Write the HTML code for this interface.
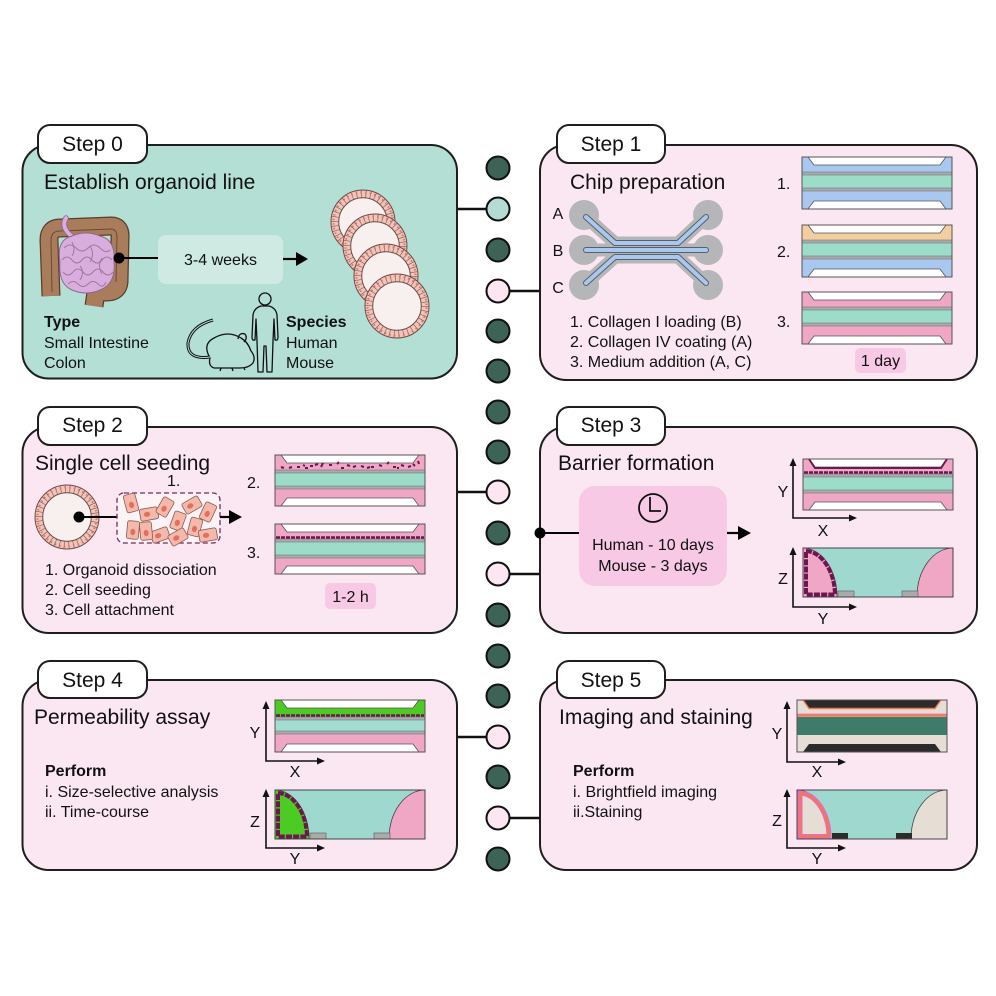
<!DOCTYPE html>
<html>
<head>
<meta charset="utf-8">
<style>
html,body{margin:0;padding:0;background:#fff;}
svg{display:block;font-family:"Liberation Sans",Arial,sans-serif;}
</style>
</head>
<body>
<svg width="996" height="996" viewBox="0 0 996 996" xmlns="http://www.w3.org/2000/svg">
<defs>
  <g id="org">
    <circle r="33" fill="#f2c3b9" stroke="#6b4a45" stroke-width="1"/>
    <circle r="29" fill="none" stroke="#80605a" stroke-width="8" stroke-dasharray="0.7 4.1"/>
    <circle r="30.5" fill="none" stroke="#d5756a" stroke-width="2" stroke-dasharray="1.5 3.3" stroke-dashoffset="-1.6"/>
    <circle r="25" fill="#f8efef" stroke="#6b4a45" stroke-width="1"/>
  </g>
  <g id="cell">
    <rect x="-6" y="-9" width="12" height="18" rx="2" fill="#f4b9aa" stroke="#8a5a50" stroke-width="0.8"/>
    <ellipse cx="0" cy="2" rx="2.5" ry="3.2" fill="#e0705f"/>
  </g>
</defs>

<!-- center dots -->
<g stroke="#111" stroke-width="2.4">
  <line x1="457" y1="209" x2="487" y2="209"/>
  <line x1="509" y1="291" x2="540" y2="291"/>
  <line x1="457" y1="492" x2="487" y2="492"/>
  <line x1="509" y1="574" x2="540" y2="574"/>
  <line x1="457" y1="737" x2="487" y2="737"/>
  <line x1="509" y1="818" x2="540" y2="818"/>
</g>
<g stroke="#111" stroke-width="2" fill="#3c6356">
  <circle cx="498" cy="168" r="11.5"/>
  <circle cx="498" cy="209" r="11.5" fill="#b5dcd4"/>
  <circle cx="498" cy="250" r="11.5"/>
  <circle cx="498" cy="291" r="11.5" fill="#fbe6f2"/>
  <circle cx="498" cy="331" r="11.5"/>
  <circle cx="498" cy="371" r="11.5"/>
  <circle cx="498" cy="412" r="11.5"/>
  <circle cx="498" cy="452" r="11.5"/>
  <circle cx="498" cy="492" r="11.5" fill="#fbe6f2"/>
  <circle cx="498" cy="533" r="11.5"/>
  <circle cx="498" cy="574" r="11.5" fill="#fbe6f2"/>
  <circle cx="498" cy="615" r="11.5"/>
  <circle cx="498" cy="656" r="11.5"/>
  <circle cx="498" cy="696" r="11.5"/>
  <circle cx="498" cy="737" r="11.5" fill="#fbe6f2"/>
  <circle cx="498" cy="777" r="11.5"/>
  <circle cx="498" cy="818" r="11.5" fill="#fbe6f2"/>
  <circle cx="498" cy="859" r="11.5"/>
</g>

<!-- panels -->
<g stroke="#1e1e1e" stroke-width="2">
  <rect x="22.5" y="145" width="434.5" height="233.5" rx="26" fill="#b4dfd5"/>
  <rect x="540" y="145" width="437" height="235" rx="26" fill="#fbe7f2"/>
  <rect x="22.5" y="427" width="434.5" height="206" rx="26" fill="#fbe7f2"/>
  <rect x="540" y="427" width="437" height="206" rx="26" fill="#fbe7f2"/>
  <rect x="22.5" y="680" width="434.5" height="190" rx="26" fill="#fbe7f2"/>
  <rect x="540" y="680" width="437" height="190" rx="26" fill="#fbe7f2"/>
  <!-- tabs -->
  <rect x="38" y="125" width="109" height="38" rx="12" fill="#fff"/>
  <rect x="557" y="125" width="108" height="38" rx="12" fill="#fff"/>
  <rect x="38" y="407" width="109" height="38" rx="12" fill="#fff"/>
  <rect x="557" y="407" width="108" height="38" rx="12" fill="#fff"/>
  <rect x="38" y="661" width="109" height="37" rx="12" fill="#fff"/>
  <rect x="557" y="661" width="108" height="37" rx="12" fill="#fff"/>
</g>
<g font-size="21" fill="#111" text-anchor="middle">
  <text x="92.5" y="151">Step 0</text>
  <text x="611" y="151">Step 1</text>
  <text x="92.5" y="432">Step 2</text>
  <text x="611" y="432">Step 3</text>
  <text x="92.5" y="687">Step 4</text>
  <text x="611" y="687">Step 5</text>
</g>

<!-- titles -->
<g font-size="21" fill="#111">
  <text x="44" y="189">Establish organoid line</text>
  <text x="570" y="189">Chip preparation</text>
  <text x="35" y="470">Single cell seeding</text>
  <text x="558" y="470">Barrier formation</text>
  <text x="34" y="724">Permeability assay</text>
  <text x="559" y="724">Imaging and staining</text>
</g>

<!-- ================= STEP 0 ================= -->
<!-- intestine -->
<path d="M51,296 L49,240 Q49,228 60,228 L111,226 Q121,226 120,238 L119,282 Q118,292 107,292 L96,292 L94,306" fill="none" stroke="#5a3d2c" stroke-width="19" stroke-linejoin="round"/>
<path d="M51,296 L49,240 Q49,228 60,228 L111,226 Q121,226 120,238 L119,282 Q118,292 107,292 L96,292 L94,306" fill="none" stroke="#a97c5c" stroke-width="16.5" stroke-linejoin="round"/>
<path d="M52,292 L51,240 Q51,231 60,231 L111,229 Q117,229 117,238 L116,282" fill="none" stroke="#6b4a35" stroke-width="1"/>
<path d="M74,238 Q60,228 66,218" fill="none" stroke="#8c6b8d" stroke-width="5.5" stroke-linecap="round"/>
<path d="M74,238 Q60,228 66,218" fill="none" stroke="#d9aedf" stroke-width="3.8" stroke-linecap="round"/>
<path d="M60,262 Q56,240 72,236 Q86,230 100,236 Q116,240 114,262 Q116,284 100,290 Q86,296 72,290 Q58,284 60,262 Z" fill="#d9aedf" stroke="#8c6b8d" stroke-width="1"/>
<g fill="none" stroke="#9b7b9c" stroke-width="1">
  <path d="M64,248 q6,-6 12,0 t12,0 t12,0 t10,2"/>
  <path d="M62,260 q5,-6 10,0 t10,0 t10,0 t10,0 t10,0"/>
  <path d="M63,272 q5,6 10,0 t10,0 t10,0 t10,0 t10,0"/>
  <path d="M68,284 q5,-5 10,0 t10,0 t10,0 t8,-2"/>
  <path d="M72,242 q4,8 0,14 M90,246 q5,8 0,16 M102,258 q-5,8 0,16 M80,266 q5,6 0,14"/>
</g>
<circle cx="119" cy="258" r="5.5" fill="#000"/>
<line x1="119" y1="258" x2="158" y2="258" stroke="#000" stroke-width="2"/>
<rect x="158" y="235" width="125" height="49" rx="8" fill="#cfeae3"/>
<text x="220.5" y="265" font-size="16" text-anchor="middle" fill="#111">3-4 weeks</text>
<line x1="283" y1="259" x2="299" y2="259" stroke="#000" stroke-width="2.2"/>
<polygon points="296,252 308,259 296,266" fill="#000"/>
<!-- organoids -->
<use href="#org" transform="translate(363,222) scale(0.97)"/>
<use href="#org" transform="translate(375,246) scale(0.97)"/>
<use href="#org" transform="translate(386,276) scale(0.97)"/>
<use href="#org" transform="translate(397,306) scale(0.97)"/>
<!-- mouse -->
<g fill="none" stroke="#111" stroke-width="1.3" stroke-linejoin="round">
  <path d="M210,358 Q202,344 214,338 Q228,330 241,338 Q248,342 251,351 Q256,357 253,363 Q249,368 240,368 L214,368 Q208,366 210,358 Z"/>
  <path d="M238,339 q1,-7 7,-5 q3,4 -1,8"/>
  <path d="M221,368 l-1,3 M232,368 l1,3 M244,368 l1,2"/>
  <path d="M210,357 Q187,360 188,343 Q191,326 213,320" stroke-width="3"/>
</g>
<path d="M210,357 Q187,360 188,343 Q191,326 213,320" fill="none" stroke="#b4dfd5" stroke-width="1"/>
<!-- human -->
<g fill="none" stroke="#111" stroke-width="1.3" stroke-linejoin="round">
  <circle cx="265" cy="299" r="6"/>
  <path d="M261,306 L269,306 Q276,308 277,315 L278,337 Q278,341 275,340 L274,319 L273,341 L272,372 L267,372 L266,346 L264,346 L263,372 L258,372 L257,341 L256,319 L255,340 Q252,341 252,337 L253,315 Q254,308 261,306 Z"/>
</g>
<g font-size="16" fill="#111">
  <text x="44" y="327" font-weight="bold">Type</text>
  <text x="44" y="348">Small Intestine</text>
  <text x="44" y="368">Colon</text>
  <text x="286" y="327" font-weight="bold">Species</text>
  <text x="286" y="348">Human</text>
  <text x="286" y="368">Mouse</text>
</g>

<!-- ================= STEP 1 ================= -->
<g fill="#b4b6b8">
  <circle cx="584" cy="215" r="15"/><circle cx="584" cy="250" r="15"/><circle cx="584" cy="285" r="15"/>
  <circle cx="708" cy="215" r="15"/><circle cx="708" cy="250" r="15"/><circle cx="708" cy="285" r="15"/>
</g>
<g fill="none" stroke="#b4b6b8" stroke-width="13" stroke-linejoin="round">
  <path d="M584,215 L615,243 L678,243 L708,215"/>
  <path d="M584,250 L708,250"/>
  <path d="M584,285 L615,257 L678,257 L708,285"/>
</g>
<g fill="none" stroke="#5a6068" stroke-width="6" stroke-linecap="round" stroke-linejoin="round">
  <path d="M586,217 L615,243 L678,243 L706,217"/>
  <path d="M586,250 L706,250"/>
  <path d="M586,283 L615,257 L678,257 L706,283"/>
</g>
<g fill="none" stroke="#a8c8f0" stroke-width="4" stroke-linecap="round" stroke-linejoin="round">
  <path d="M586,217 L615,243 L678,243 L706,217"/>
  <path d="M586,250 L706,250"/>
  <path d="M586,283 L615,257 L678,257 L706,283"/>
</g>
<g font-size="16" fill="#111" text-anchor="middle">
  <text x="558" y="219">A</text>
  <text x="558" y="256">B</text>
  <text x="558" y="293">C</text>
</g>
<g font-size="16" fill="#111">
  <text x="570" y="327">1. Collagen I loading (B)</text>
  <text x="570" y="347">2. Collagen IV coating (A)</text>
  <text x="570" y="367">3. Medium addition (A, C)</text>
  <text x="777" y="189">1.</text>
  <text x="777" y="257">2.</text>
  <text x="777" y="327">3.</text>
</g>
<!-- section 1 -->
<g transform="translate(802,157)">
  <rect width="150" height="52" fill="#a8c8f0"/>
  <rect y="15" width="150" height="3" fill="#a9abad"/>
  <rect y="18" width="150" height="13" fill="#9edcca"/>
  <rect y="31" width="150" height="3" fill="#a9abad"/>
  <path d="M0,15H150M0,18H150M0,31H150M0,34H150" stroke="#666" stroke-width="0.6"/>
  <polygon points="6,0 144,0 138,8 12,8" fill="#fff" stroke="#555" stroke-width="0.8"/>
  <polygon points="12,44 138,44 144,52 6,52" fill="#fff" stroke="#555" stroke-width="0.8"/>
  <rect width="150" height="52" fill="none" stroke="#555" stroke-width="1"/>
</g>
<!-- section 2 -->
<g transform="translate(802,225)">
  <rect width="150" height="52" fill="#f2cfa0"/>
  <rect y="34" width="150" height="18" fill="#a8c8f0"/>
  <rect y="15" width="150" height="3" fill="#a9abad"/>
  <rect y="18" width="150" height="13" fill="#9edcca"/>
  <rect y="31" width="150" height="3" fill="#a9abad"/>
  <path d="M0,15H150M0,18H150M0,31H150M0,34H150" stroke="#666" stroke-width="0.6"/>
  <polygon points="6,0 144,0 138,8 12,8" fill="#fff" stroke="#555" stroke-width="0.8"/>
  <polygon points="12,44 138,44 144,52 6,52" fill="#fff" stroke="#555" stroke-width="0.8"/>
  <rect width="150" height="52" fill="none" stroke="#555" stroke-width="1"/>
</g>
<!-- section 3 -->
<g transform="translate(802,292)">
  <rect width="150" height="52" fill="#f0a7c5"/>
  <rect y="15" width="150" height="3" fill="#a9abad"/>
  <rect y="18" width="150" height="13" fill="#9edcca"/>
  <rect y="31" width="150" height="3" fill="#a9abad"/>
  <path d="M0,15H150M0,18H150M0,31H150M0,34H150" stroke="#666" stroke-width="0.6"/>
  <polygon points="6,0 144,0 138,8 12,8" fill="#fff" stroke="#555" stroke-width="0.8"/>
  <polygon points="12,44 138,44 144,52 6,52" fill="#fff" stroke="#555" stroke-width="0.8"/>
  <rect width="150" height="52" fill="none" stroke="#555" stroke-width="1"/>
</g>
<rect x="855" y="348" width="51" height="25" rx="5" fill="#f7c9e4"/>
<text x="880.5" y="366" font-size="16" fill="#111" text-anchor="middle">1 day</text>

<!-- ================= STEP 2 ================= -->
<use href="#org" transform="translate(67,517) scale(0.97)"/>
<circle cx="79" cy="517" r="5.5" fill="#000"/>
<line x1="79" y1="517" x2="117" y2="517" stroke="#000" stroke-width="2"/>
<rect x="117" y="493" width="103" height="50" rx="7" fill="#fcf3f7" stroke="#7a2a5a" stroke-width="1.3" stroke-dasharray="5 3"/>
<use href="#cell" transform="translate(131,503) rotate(-15)"/>
<use href="#cell" transform="translate(133,530) rotate(5)"/>
<use href="#cell" transform="translate(149,514) rotate(80)"/>
<use href="#cell" transform="translate(160,535) rotate(70)"/>
<use href="#cell" transform="translate(165,507) rotate(30)"/>
<use href="#cell" transform="translate(178,521) rotate(20)"/>
<use href="#cell" transform="translate(178,537) rotate(60)"/>
<use href="#cell" transform="translate(192,505) rotate(60)"/>
<use href="#cell" transform="translate(195,527) rotate(15)"/>
<use href="#cell" transform="translate(208,512) rotate(25)"/>
<use href="#cell" transform="translate(208,535) rotate(80)"/>
<use href="#cell" transform="translate(146,531) rotate(-5)"/>
<line x1="220" y1="517" x2="232" y2="517" stroke="#000" stroke-width="2.2"/>
<polygon points="229,510 242,517 229,524" fill="#000"/>
<g font-size="16" fill="#111">
  <text x="167" y="486">1.</text>
  <text x="247" y="488">2.</text>
  <text x="247" y="558">3.</text>
  <text x="45" y="575">1. Organoid dissociation</text>
  <text x="45" y="595">2. Cell seeding</text>
  <text x="45" y="615">3. Cell attachment</text>
</g>
<g transform="translate(275,455)">
  <rect width="150" height="51" fill="#f0a7c5"/>
  <rect y="15" width="150" height="3" fill="#a9abad"/>
  <rect y="18" width="150" height="13" fill="#9edcca"/>
  <rect y="31" width="150" height="3" fill="#a9abad"/>
  <path d="M0,15H150M0,18H150M0,31H150M0,34H150" stroke="#666" stroke-width="0.6"/>
  <polygon points="6,0 144,0 138,8 12,8" fill="#fff" stroke="#555" stroke-width="0.8"/>
  <polygon points="12,43 138,43 144,51 6,51" fill="#fff" stroke="#555" stroke-width="0.8"/>
  <path d="M6,12 l3,1 M14,13 l3,-1 M22,12 l3,0 M28,10 l2,1 M35,11 l3,0 M40,10 l3,-1 M46,12 l2,-4 M54,10 l3,0 M62,9 l2,-2 M72,10 l3,1 M78,12 l3,-1 M86,11 l3,1 M96,12 l3,0 M104,10 l3,1 M112,9 l2,-2 M118,12 l3,0 M126,10 l3,1 M133,12 l3,-1 M138,9 l2,2 M143,6 l1,3 M30,13 l3,0 M66,13 l3,0 M92,13 l3,-1 M122,13 l2,0" stroke="#6d1650" stroke-width="2"/>
  <rect width="150" height="51" fill="none" stroke="#555" stroke-width="1"/>
</g>
<g transform="translate(275,524)">
  <rect width="150" height="50" fill="#f0a7c5"/>
  <rect y="15" width="150" height="3" fill="#a9abad"/>
  <rect y="18" width="150" height="13" fill="#9edcca"/>
  <rect y="31" width="150" height="3" fill="#a9abad"/>
  <path d="M0,15H150M0,18H150M0,31H150M0,34H150" stroke="#666" stroke-width="0.6"/>
  <polygon points="6,0 144,0 138,8 12,8" fill="#fff" stroke="#555" stroke-width="0.8"/>
  <polygon points="12,42 138,42 144,50 6,50" fill="#fff" stroke="#555" stroke-width="0.8"/>
  <line x1="1" y1="13.5" x2="149" y2="13.5" stroke="#6d1650" stroke-width="2.5" stroke-dasharray="4 1"/>
  <rect width="150" height="50" fill="none" stroke="#555" stroke-width="1"/>
</g>
<rect x="325" y="583" width="51" height="26" rx="5" fill="#f7c9e4"/>
<text x="350.5" y="602" font-size="16" fill="#111" text-anchor="middle">1-2 h</text>

<!-- ================= STEP 3 ================= -->
<circle cx="540" cy="533" r="5.5" fill="#000"/>
<line x1="540" y1="533" x2="579" y2="533" stroke="#000" stroke-width="2"/>
<rect x="579" y="486" width="148" height="100" rx="16" fill="#f7c9e4"/>
<circle cx="653" cy="508" r="14" fill="none" stroke="#111" stroke-width="1.8"/>
<path d="M650,497 L650,511 L661,511" fill="none" stroke="#111" stroke-width="1.8"/>
<g font-size="16" fill="#111" text-anchor="middle">
  <text x="653" y="550">Human - 10 days</text>
  <text x="653" y="571">Mouse - 3 days</text>
</g>
<line x1="727" y1="533" x2="741" y2="533" stroke="#000" stroke-width="2.2"/>
<polygon points="738,526 751,533 738,540" fill="#000"/>
<!-- XY -->
<g transform="translate(803,459)">
  <rect width="150" height="51" fill="#f0a7c5"/>
  <rect y="15" width="150" height="3" fill="#a9abad"/>
  <rect y="18" width="150" height="13" fill="#9edcca"/>
  <rect y="31" width="150" height="3" fill="#a9abad"/>
  <path d="M0,15H150M0,18H150M0,31H150M0,34H150" stroke="#666" stroke-width="0.6"/>
  <polygon points="6,0 144,0 138,8 12,8" fill="#fff" stroke="#555" stroke-width="0.8"/>
  <polygon points="12,43 138,43 144,51 6,51" fill="#fff" stroke="#555" stroke-width="0.8"/>
  <polyline points="6,0 12,9 138,9 144,0" fill="none" stroke="#6d1650" stroke-width="2"/>
  <line x1="1" y1="13.5" x2="149" y2="13.5" stroke="#6d1650" stroke-width="2.5" stroke-dasharray="4 1"/>
  <rect width="150" height="51" fill="none" stroke="#555" stroke-width="1"/>
</g>
<!-- ZY -->
<g transform="translate(803,548)">
  <rect width="150" height="49" fill="#9fd8cf"/>
  <path d="M0,0 A34,49 0 0 1 34,49 L0,49 Z" fill="#f0a7c5" stroke="#444" stroke-width="0.8"/>
  <path d="M150,0 A36,49 0 0 0 114,49 L150,49 Z" fill="#f0a7c5" stroke="#444" stroke-width="0.8"/>
  <path d="M3,3 A30,45 0 0 1 32,46.5 L3,46.5 Z" fill="none" stroke="#6d1650" stroke-width="4" stroke-dasharray="6 1.2"/>
  <rect x="35" y="43" width="16" height="6" fill="#aaa" stroke="#666" stroke-width="0.7"/>
  <rect x="99" y="43" width="16" height="6" fill="#aaa" stroke="#666" stroke-width="0.7"/>
  <rect width="150" height="49" fill="none" stroke="#444" stroke-width="1"/>
</g>
<!-- axes step 3 -->
<g stroke="#111" stroke-width="1.6" fill="none">
  <path d="M793,464 L793,518 L850,518"/>
  <path d="M793,553 L793,607 L850,607"/>
</g>
<g fill="#111">
  <polygon points="793,458 789.5,466 796.5,466"/>
  <polygon points="857,518 849,514.5 849,521.5"/>
  <polygon points="793,547 789.5,555 796.5,555"/>
  <polygon points="857,607 849,603.5 849,610.5"/>
</g>
<g font-size="16" fill="#111" text-anchor="middle">
  <text x="783" y="497">Y</text>
  <text x="823" y="536">X</text>
  <text x="783" y="584">Z</text>
  <text x="823" y="624">Y</text>
</g>

<!-- ================= STEP 4 ================= -->
<g font-size="16" fill="#111">
  <text x="45" y="776" font-weight="bold">Perform</text>
  <text x="45" y="797">i. Size-selective analysis</text>
  <text x="45" y="817">ii. Time-course</text>
</g>
<g transform="translate(275,700)">
  <rect width="150" height="52" fill="#4ccb22"/>
  <rect y="34" width="150" height="18" fill="#f0a7c5"/>
  <rect y="17" width="150" height="3" fill="#a9abad"/>
  <rect y="20" width="150" height="11" fill="#a3dcd3"/>
  <rect y="31" width="150" height="3" fill="#a9abad"/>
  <path d="M0,17H150M0,20H150M0,31H150M0,34H150" stroke="#666" stroke-width="0.6"/>
  <polygon points="6,0 144,0 138,8 12,8" fill="#fff" stroke="#555" stroke-width="0.8"/>
  <polygon points="12,44 138,44 144,52 6,52" fill="#fff" stroke="#555" stroke-width="0.8"/>
  <line x1="1" y1="15.5" x2="149" y2="15.5" stroke="#6d1650" stroke-width="2.5" stroke-dasharray="4 1"/>
  <rect width="150" height="52" fill="none" stroke="#555" stroke-width="1"/>
</g>
<g transform="translate(275,790)">
  <rect width="150" height="49" fill="#9fd8cf"/>
  <path d="M0,0 A34,49 0 0 1 34,49 L0,49 Z" fill="#4ccb22" stroke="#444" stroke-width="0.8"/>
  <path d="M150,0 A36,49 0 0 0 114,49 L150,49 Z" fill="#f0a7c5" stroke="#444" stroke-width="0.8"/>
  <path d="M3,3 A30,45 0 0 1 32,46.5 L3,46.5 Z" fill="none" stroke="#6d1650" stroke-width="4" stroke-dasharray="6 1.2"/>
  <rect x="35" y="43" width="16" height="6" fill="#aaa" stroke="#666" stroke-width="0.7"/>
  <rect x="99" y="43" width="16" height="6" fill="#aaa" stroke="#666" stroke-width="0.7"/>
  <rect width="150" height="49" fill="none" stroke="#444" stroke-width="1"/>
</g>
<g stroke="#111" stroke-width="1.6" fill="none">
  <path d="M266,707 L266,761 L318,761"/>
  <path d="M266,795 L266,848 L318,848"/>
</g>
<g fill="#111">
  <polygon points="266,701 262.5,709 269.5,709"/>
  <polygon points="325,761 317,757.5 317,764.5"/>
  <polygon points="266,789 262.5,797 269.5,797"/>
  <polygon points="325,848 317,844.5 317,851.5"/>
</g>
<g font-size="16" fill="#111" text-anchor="middle">
  <text x="255" y="738">Y</text>
  <text x="295" y="777">X</text>
  <text x="255" y="827">Z</text>
  <text x="295" y="864">Y</text>
</g>

<!-- ================= STEP 5 ================= -->
<g font-size="16" fill="#111">
  <text x="573" y="776" font-weight="bold">Perform</text>
  <text x="573" y="797">i. Brightfield imaging</text>
  <text x="573" y="817">ii.Staining</text>
</g>
<g transform="translate(797,700)">
  <rect width="150" height="52" fill="#e6ded5"/>
  <rect y="17" width="150" height="18" fill="#3e7b69"/>
  <line x1="0" y1="15.5" x2="150" y2="15.5" stroke="#ef7a50" stroke-width="2.5"/>
  <line x1="0" y1="14" x2="150" y2="14" stroke="#e86ad0" stroke-width="0.8"/>
  <polygon points="6,0 144,0 138,8 12,8" fill="#2b2b2b"/>
  <polyline points="6,0 12,8.5 138,8.5 144,0" fill="none" stroke="#ef7a50" stroke-width="1.4"/>
  <polygon points="12,44 138,44 144,52 6,52" fill="#2b2b2b"/>
  <rect width="150" height="52" fill="none" stroke="#555" stroke-width="1"/>
</g>
<g transform="translate(797,790)">
  <rect width="150" height="49" fill="#9fd8cf"/>
  <path d="M0,0 A34,49 0 0 1 34,49 L0,49 Z" fill="#e6ded5" stroke="#444" stroke-width="0.8"/>
  <path d="M150,0 A36,49 0 0 0 114,49 L150,49 Z" fill="#e6ded5" stroke="#444" stroke-width="0.8"/>
  <path d="M3,3 A30,45 0 0 1 32,46.5 L3,46.5 Z" fill="none" stroke="#e86ad0" stroke-width="5"/>
  <path d="M3,3 A30,45 0 0 1 32,46.5 L3,46.5 Z" fill="none" stroke="#ef7a50" stroke-width="3" stroke-dasharray="6 1.2"/>
  <rect x="35" y="43" width="16" height="6" fill="#2b2b2b"/>
  <rect x="99" y="43" width="16" height="6" fill="#2b2b2b"/>
  <rect width="150" height="49" fill="none" stroke="#444" stroke-width="1"/>
</g>
<g stroke="#111" stroke-width="1.6" fill="none">
  <path d="M787,707 L787,762 L839,762"/>
  <path d="M787,795 L787,848 L839,848"/>
</g>
<g fill="#111">
  <polygon points="787,701 783.5,709 790.5,709"/>
  <polygon points="846,762 838,758.5 838,765.5"/>
  <polygon points="787,789 783.5,797 790.5,797"/>
  <polygon points="846,848 838,844.5 838,851.5"/>
</g>
<g font-size="16" fill="#111" text-anchor="middle">
  <text x="777" y="739">Y</text>
  <text x="817" y="777">X</text>
  <text x="777" y="826">Z</text>
  <text x="817" y="864">Y</text>
</g>
</svg>
</body>
</html>
